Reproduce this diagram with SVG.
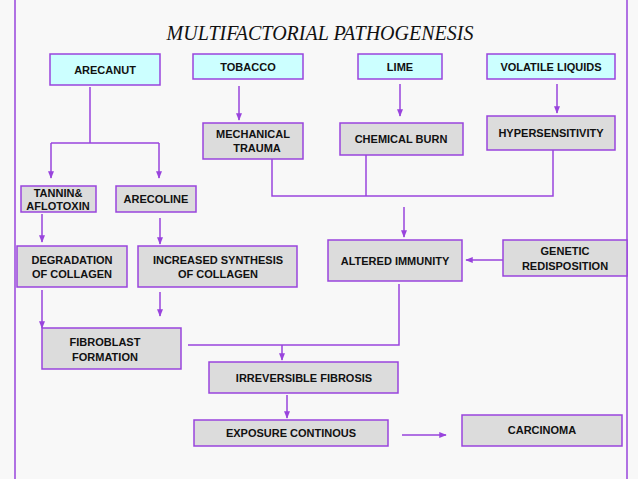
<svg xmlns="http://www.w3.org/2000/svg" width="638" height="479" viewBox="0 0 638 479">
<defs>
<marker id="a" viewBox="0 0 10 10" refX="9" refY="5" markerWidth="5" markerHeight="5" orient="auto"><path d="M0,1 L10,5 L0,9z" fill="#9944dd"/></marker>
<style>
.b{fill:#dcdcdc;stroke:#9944dd;stroke-width:1.5}
.c{fill:#ccffff;stroke:#9944dd;stroke-width:1.5}
.t{font-family:"Liberation Sans",Arial,sans-serif;font-weight:bold;font-size:11px;text-anchor:middle;fill:#111}
.l{fill:none;stroke:#9944dd;stroke-width:1.5}
.m{marker-end:url(#a)}
</style>
</defs>
<rect width="638" height="479" fill="#f8f8f8"/>
<line x1="15" y1="0" x2="15" y2="479" class="l"/>
<line x1="627" y1="0" x2="627" y2="479" class="l"/>
<text x="320" y="40" font-family="Liberation Serif,serif" font-style="italic" font-size="20" text-anchor="middle" fill="#111">MULTIFACTORIAL PATHOGENESIS</text>
<g id="connectors">
<path class="l" d="M90,87 V143 M51,143 H159"/>
<path class="l m" d="M51,143 V178"/><path class="l m" d="M159,143 V178"/>
<path class="l m" d="M239,86 V120"/><path class="l m" d="M400,84 V116"/><path class="l m" d="M557,84 V113"/>
<path class="l" d="M272,159 V196 H553 V150 M366,155 V196"/>
<path class="l m" d="M404,207 V237"/>
<path class="l m" d="M503,260 H466"/>
<path class="l m" d="M42,214 V242"/><path class="l m" d="M160,218 V244"/>
<path class="l m" d="M42,290 V328"/><path class="l m" d="M160,292 V316"/>
<path class="l" d="M188,345 H399 V284"/>
<path class="l m" d="M282,345 V360"/>
<path class="l m" d="M287,395 V418"/>
<path class="l m" d="M402,435 H446"/>
</g>
<g id="arecanut"><rect class="c" x="50" y="54" width="110" height="31"/><text class="t" x="105" y="74">ARECANUT</text></g>
<g id="tobacco"><rect class="c" x="193" y="54" width="110" height="25"/><text class="t" x="248" y="71">TOBACCO</text></g>
<g id="lime"><rect class="c" x="358" y="54" width="84" height="25"/><text class="t" x="400" y="71">LIME</text></g>
<g id="volatile"><rect class="c" x="487" y="54" width="128" height="25"/><text class="t" x="551" y="71">VOLATILE LIQUIDS</text></g>
<g id="mechanical"><rect class="b" x="203" y="123" width="100" height="36"/><text class="t" x="253" y="138">MECHANICAL</text><text class="t" x="257" y="152">TRAUMA</text></g>
<g id="chemical"><rect class="b" x="340" y="123" width="123" height="32"/><text class="t" x="401" y="143">CHEMICAL BURN</text></g>
<g id="hyper"><rect class="b" x="487" y="116" width="128" height="34"/><text class="t" x="551" y="137">HYPERSENSITIVITY</text></g>
<g id="tannin"><rect class="b" x="21" y="186" width="75" height="26"/><text class="t" x="58" y="197">TANNIN&amp;</text><text class="t" x="58" y="210">AFLOTOXIN</text></g>
<g id="arecoline"><rect class="b" x="116" y="186" width="80" height="26"/><text class="t" x="156" y="203">ARECOLINE</text></g>
<g id="degradation"><rect class="b" x="17" y="246" width="110" height="41"/><text class="t" x="72" y="264">DEGRADATION</text><text class="t" x="72" y="278">OF COLLAGEN</text></g>
<g id="increased"><rect class="b" x="138" y="246" width="159" height="41"/><text class="t" x="218" y="264">INCREASED SYNTHESIS</text><text class="t" x="218" y="278">OF COLLAGEN</text></g>
<g id="altered"><rect class="b" x="328" y="240" width="134" height="41"/><text class="t" x="395" y="265">ALTERED IMMUNITY</text></g>
<g id="genetic"><rect class="b" x="503" y="240" width="124" height="36"/><text class="t" x="565" y="255">GENETIC</text><text class="t" x="565" y="270">REDISPOSITION</text></g>
<g id="fibroblast"><rect class="b" x="42" y="328" width="139" height="41"/><text class="t" x="105" y="346">FIBROBLAST</text><text class="t" x="105" y="361">FORMATION</text></g>
<g id="irreversible"><rect class="b" x="209" y="362" width="189" height="31"/><text class="t" x="304" y="382">IRREVERSIBLE FIBROSIS</text></g>
<g id="exposure"><rect class="b" x="194" y="420" width="194" height="26"/><text class="t" x="291" y="437">EXPOSURE CONTINOUS</text></g>
<g id="carcinoma"><rect class="b" x="462" y="415" width="160" height="31"/><text class="t" x="542" y="434">CARCINOMA</text></g>
</svg>
